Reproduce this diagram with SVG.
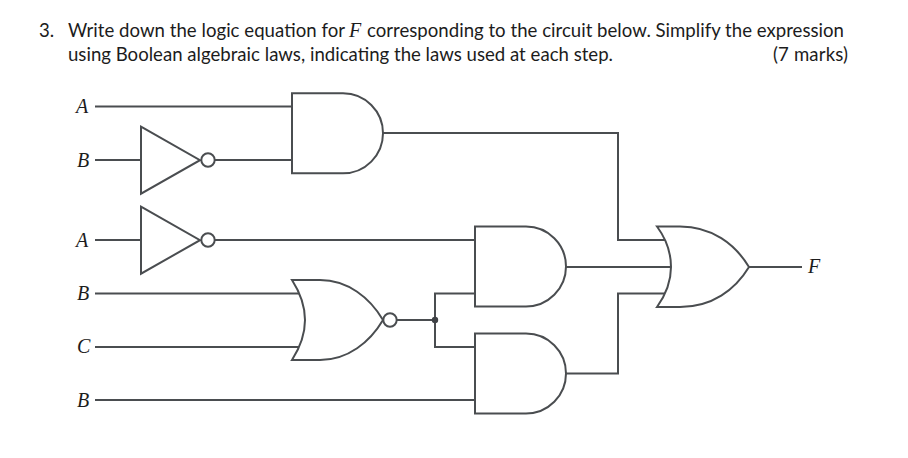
<svg xmlns="http://www.w3.org/2000/svg" width="908" height="458" viewBox="0 0 908 458">
<style>
.q{font-family:"Lato","Open Sans",sans-serif;font-size:18.6px;fill:#1c1c1c}
.m{font-family:"Liberation Serif",serif;font-style:italic;fill:#1c1c1c}
.l{font-size:20px}
.w{fill:none;stroke:#4a4d50;stroke-width:2}
.g{fill:#fff;stroke:#4a4d50;stroke-width:2;stroke-linejoin:miter}
</style>
<defs>
<path id="and" class="g" d="M0 0H51A40 40 0 0 1 51 80H0Z"/>
<path id="not" class="g" d="M0 0L59 33.5L0 67Z"/>
<circle id="bub" class="g" cx="0" cy="0" r="6.7"/>
</defs>
<rect width="908" height="458" fill="#fff"/>
<g id="question">
<text class="q" x="39" y="37">3.</text>
<text class="q" x="68" y="37" textLength="277" lengthAdjust="spacing">Write down the logic equation for</text>
<text class="m" x="349" y="37" font-size="20">F</text>
<text class="q" x="367" y="37" textLength="477" lengthAdjust="spacing">corresponding to the circuit below. Simplify the expression</text>
<text class="q" x="68" y="61" textLength="545" lengthAdjust="spacing">using Boolean algebraic laws, indicating the laws used at each step.</text>
<text class="q" x="773" y="61" textLength="75" lengthAdjust="spacing">(7 marks)</text>
</g>
<g id="connectors">
<path class="w" d="M95 106.500H292M95 160H141M215 160H292"/>
<path class="w" d="M95 240H141M215 240H475"/>
<path class="w" d="M95 293.500H300M95 347H300M95 400H475"/>
<path class="w" d="M397 320H435M475 293.500H435V347H475"/>
<path class="w" d="M383 133H618V240H665"/>
<path class="w" d="M566 267H671"/>
<path class="w" d="M566 373.500H618V293.500H665"/>
<path class="w" d="M749 267H802"/>
<circle cx="435" cy="320" r="3.200" fill="#3f4246"/>
</g>
<g id="label-a1"><text class="m l" x="76" y="113">A</text></g>
<g id="label-b1"><text class="m l" x="77" y="166.500">B</text></g>
<g id="label-a2"><text class="m l" x="76" y="246.500">A</text></g>
<g id="label-b2"><text class="m l" x="77" y="300">B</text></g>
<g id="label-c"><text class="m l" x="77" y="353">C</text></g>
<g id="label-b3"><text class="m l" x="77" y="406.500">B</text></g>
<g id="label-f"><text class="m l" x="808" y="273">F</text></g>
<g id="not1"><use href="#not" x="141" y="126.700"/><use href="#bub" x="208" y="160"/></g>
<g id="not2"><use href="#not" x="141" y="206.700"/><use href="#bub" x="208" y="240"/></g>
<g id="and1"><use href="#and" x="292" y="93.300"/></g>
<g id="and2"><use href="#and" x="475" y="226.500"/></g>
<g id="and3"><use href="#and" x="475" y="333.500"/></g>
<g id="nor"><path class="g" d="M292 280H320C348 280 370 298 383 320C370 342 348 360 320 360H292C301 346 305 333 305 320C305 307 301 294 292 280Z"/><use href="#bub" x="390" y="320"/></g>
<g id="or"><path class="g" d="M657 226.500H680C712 226.500 735 244 749 267C735 290 712 307 680 307H657C667 293 671 280 671 267C671 254 667 240 657 226.500Z"/></g>
</svg>
